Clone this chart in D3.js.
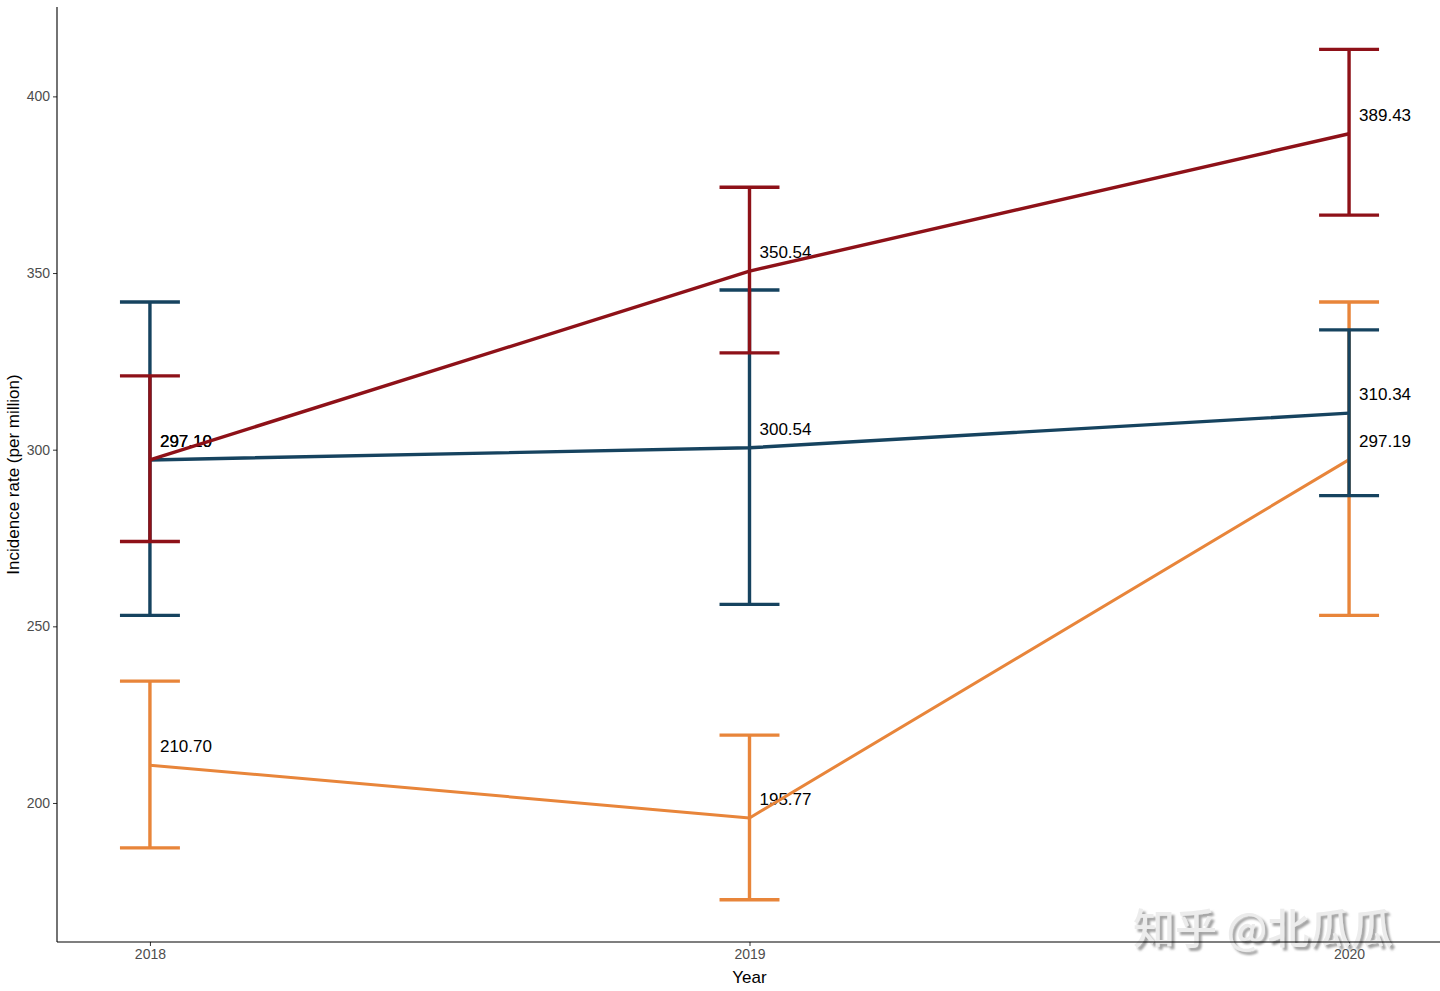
<!DOCTYPE html>
<html>
<head>
<meta charset="utf-8">
<script src="https://cdn.jsdelivr.net/npm/d3@7/dist/d3.min.js"></script>
<style>
  html, body { margin: 0; padding: 0; background: #fff; }
  svg { display: block; }
</style>
</head>
<body>
<svg id="chart" width="1440" height="991"></svg>
<script>
// ---- data ----
const years = [2018, 2019, 2020];
const seriesNames = ["orange", "blue", "red"];
const orangeMean = [210.70, 195.77, 297.19];
const orangeLow  = [187.3, 172.6, 253.1];
const orangeHigh = [234.5, 219.2, 341.8];
const blueMean = [297.10, 300.54, 310.34];
const blueLow  = [253.1, 256.2, 287.0];
const blueHigh = [341.8, 345.2, 333.9];
const redMean = [297.10, 350.54, 389.43];
const redLow  = [274.0, 327.4, 366.4];
const redHigh = [320.9, 374.3, 413.3];
const yTicks = [200, 250, 300, 350, 400];
const xTickLabels = ["2018", "2019", "2020"];

const colors = { orange: "#E8853A", blue: "#16435F", red: "#8E1118" };
const series = [
  { name: "orange", mean: orangeMean, low: orangeLow, high: orangeHigh, width: 3 },
  { name: "blue", mean: blueMean, low: blueLow, high: blueHigh, width: 3.4 },
  { name: "red", mean: redMean, low: redLow, high: redHigh, width: 3.4 }
];

// ---- layout ----
const svg = d3.select("#chart");
const pLeft = 57, pRight = 1440, pTop = 7, pBottom = 942;

const x = d3.scaleLinear().domain([2017.845, 2020.155]).range([pLeft, 1442]);
const y = d3.scaleLinear().domain([160.65, 425.3]).range([pBottom, pTop]);
const capHalf = 0.05;
const fontFam = "Arial, 'Liberation Sans', sans-serif";

// ---- axes ----
const yAxis = d3.axisLeft(y).tickValues(yTicks).tickSize(4).tickPadding(3);
const gy = svg.append("g").attr("transform", `translate(${pLeft},0)`).call(yAxis);
gy.select(".domain").remove();
gy.selectAll(".tick line").attr("stroke", "#333").attr("stroke-width", 1);
gy.selectAll(".tick text").attr("fill", "#4d4d4d").style("font-family", fontFam).style("font-size", "14px");

const xAxis = d3.axisBottom(x).tickValues(years).tickFormat((d, i) => xTickLabels[i]).tickSize(4).tickPadding(3);
const gx = svg.append("g").attr("transform", `translate(0,${pBottom})`).call(xAxis);
gx.select(".domain").remove();
gx.selectAll(".tick line").attr("stroke", "#333").attr("stroke-width", 1);
gx.selectAll(".tick text").attr("fill", "#4d4d4d").style("font-family", fontFam).style("font-size", "14px");

// ---- watermark (behind axis line) ----
const defs = svg.append("defs");
const flt = defs.append("filter").attr("id", "wmShadow").attr("x", "-5%").attr("y", "-20%").attr("width", "115%").attr("height", "150%");
flt.append("feDropShadow").attr("dx", 3).attr("dy", 3).attr("stdDeviation", 0.8)
  .attr("flood-color", "#8a8a8a").attr("flood-opacity", 0.8);
svg.append("text").attr("x", 1133).attr("y", 944)
  .style("font-family", "'Noto Sans CJK SC', sans-serif").style("font-size", "42px").style("font-weight", "500")
  .attr("fill", "#ececec").attr("filter", "url(#wmShadow)")
  .text("知乎 @北瓜瓜");

svg.append("line").attr("x1", pLeft).attr("x2", pLeft).attr("y1", pTop).attr("y2", pBottom)
  .attr("stroke", "#000").attr("stroke-width", 1.1);
svg.append("line").attr("x1", pLeft).attr("x2", pRight).attr("y1", pBottom).attr("y2", pBottom)
  .attr("stroke", "#000").attr("stroke-width", 1.1);

svg.append("text").attr("x", x(2019)).attr("y", 983)
  .attr("text-anchor", "middle").attr("fill", "#000")
  .style("font-family", fontFam).style("font-size", "17px")
  .text("Year");
svg.append("text").attr("transform", `translate(19,${(pTop + pBottom) / 2}) rotate(-90)`)
  .attr("text-anchor", "middle").attr("fill", "#000")
  .style("font-family", fontFam).style("font-size", "17px")
  .text("Incidence rate (per million)");

// ---- labels (drawn beneath marks) ----
const labG = svg.append("g");
series.forEach(s => {
  labG.selectAll(null).data(years).enter().append("text")
    .attr("x", d => x(d) + 10)
    .attr("y", (d, i) => y(s.mean[i]) - 13)
    .attr("fill", "#000")
    .style("font-family", fontFam)
    .style("font-size", "17px")
    .text((d, i) => s.mean[i].toFixed(2));
});

// ---- lines and error bars ----
const line = d3.line().x((d, i) => x(years[i])).y(d => y(d));
series.forEach(s => {
  const g = svg.append("g");
  const c = colors[s.name];
  g.selectAll(null).data(years).enter().append("line")
    .attr("x1", d => x(d)).attr("x2", d => x(d))
    .attr("y1", (d, i) => y(s.low[i])).attr("y2", (d, i) => y(s.high[i]))
    .attr("stroke", c).attr("stroke-width", 3.4);
  ["low", "high"].forEach(k => {
    g.selectAll(null).data(years).enter().append("line")
      .attr("x1", d => x(d - capHalf)).attr("x2", d => x(d + capHalf))
      .attr("y1", (d, i) => y(s[k][i])).attr("y2", (d, i) => y(s[k][i]))
      .attr("stroke", c).attr("stroke-width", 3.4);
  });
  g.append("path").datum(s.mean).attr("d", line)
    .attr("fill", "none").attr("stroke", c).attr("stroke-width", s.width)
    .attr("stroke-linejoin", "round");
});
</script>
</body>
</html>
